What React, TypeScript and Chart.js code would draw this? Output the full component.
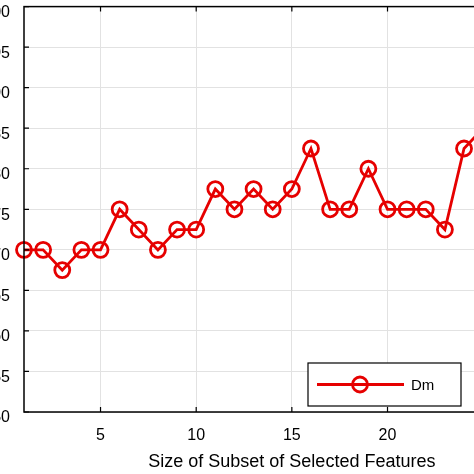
import { useEffect, useRef } from 'react';
import { Chart, registerables } from 'chart.js';

Chart.register(...registerables);

// values
const subsetSizes = [1, 2, 3, 4, 5, 6, 7, 8, 9, 10, 11, 12, 13, 14, 15, 16, 17, 18, 19, 20, 21, 22, 23, 24, 25];
const dmValues = [70, 70, 67.5, 70, 70, 75, 72.5, 70, 72.5, 72.5, 77.5, 75, 77.5, 75, 77.5, 82.5, 75, 75, 80, 75, 75, 75, 72.5, 82.5, 85];
const seriesName = 'Dm';
const xTitle = 'Size of Subset of Selected Features';
const xRange = [1, 29];
const yRange = [50, 100];

const RED = '#e60000';
const FONT = "'Liberation Sans', Arial, sans-serif";

// frame, inward ticks and the legend box inside the plot
const framePlugin = {
  id: 'frame',
  afterDraw(chart: any) {
    const { ctx, chartArea: a, scales } = chart;
    ctx.save();
    ctx.strokeStyle = '#000';
    ctx.lineWidth = 1.5;
    ctx.strokeRect(a.left, a.top, a.right - a.left, a.bottom - a.top);

    ctx.lineWidth = 1.2;
    ctx.beginPath();
    scales.x.ticks.forEach((t: any) => {
      const px = scales.x.getPixelForValue(t.value);
      ctx.moveTo(px, a.bottom);
      ctx.lineTo(px, a.bottom - 5);
      ctx.moveTo(px, a.top);
      ctx.lineTo(px, a.top + 5);
    });
    scales.y.ticks.forEach((t: any) => {
      const py = scales.y.getPixelForValue(t.value);
      ctx.moveTo(a.left, py);
      ctx.lineTo(a.left + 5, py);
    });
    ctx.stroke();

    // legend
    const lx = a.left + 284;
    const lw = 153;
    const lh = 43;
    const ly = a.bottom - 6 - lh;
    ctx.fillStyle = '#fff';
    ctx.fillRect(lx, ly, lw, lh);
    ctx.strokeStyle = '#000';
    ctx.lineWidth = 1.2;
    ctx.strokeRect(lx, ly, lw, lh);
    const cy = ly + lh / 2;
    ctx.strokeStyle = RED;
    ctx.lineWidth = 2.8;
    ctx.beginPath();
    ctx.moveTo(lx + 9, cy);
    ctx.lineTo(lx + 96, cy);
    ctx.stroke();
    ctx.beginPath();
    ctx.arc(lx + 52, cy, 7.5, 0, Math.PI * 2);
    ctx.stroke();
    ctx.fillStyle = '#000';
    ctx.font = `15px ${FONT}`;
    ctx.textBaseline = 'middle';
    ctx.textAlign = 'left';
    ctx.fillText(seriesName, lx + 103, cy + 1);
    ctx.restore();
  },
};

const App = () => {
  const canvasRef = useRef<HTMLCanvasElement>(null);
  const chartRef = useRef<Chart | null>(null);

  useEffect(() => {
    if (!canvasRef.current) return;
    if (chartRef.current) chartRef.current.destroy();

    chartRef.current = new Chart(canvasRef.current, {
      type: 'line',
      data: {
        datasets: [
          {
            label: seriesName,
            data: subsetSizes.map((s, i) => ({ x: s, y: dmValues[i] })),
            borderColor: RED,
            borderWidth: 2.8,
            pointStyle: 'circle',
            pointRadius: 7.5,
            pointBorderWidth: 2.8,
            pointBorderColor: RED,
            pointBackgroundColor: 'rgba(0,0,0,0)',
            tension: 0,
            clip: false as any,
          },
        ],
      },
      options: {
        responsive: false,
        animation: false,
        layout: { padding: { top: 5, right: 5, left: 0, bottom: 0 } },
        plugins: {
          legend: { display: false },
          tooltip: { enabled: false },
        },
        scales: {
          x: {
            type: 'linear',
            min: xRange[0],
            max: xRange[1],
            afterFit: (scale: any) => {
              scale.height = 62;
            },
            ticks: {
              stepSize: 5,
              includeBounds: false,
              padding: 14,
              color: '#000',
              font: { size: 16, family: FONT },
            },
            grid: { color: '#e2e2e2', lineWidth: 1, drawTicks: false },
            border: { display: false },
            title: {
              display: true,
              text: xTitle,
              color: '#000',
              font: { size: 18, family: FONT },
              padding: { top: 0, bottom: 1 },
            },
          },
          y: {
            min: yRange[0],
            max: yRange[1],
            afterFit: (scale: any) => {
              scale.width = 64;
            },
            ticks: {
              stepSize: 5,
              padding: 14,
              labelOffset: 6,
              color: '#000',
              font: { size: 16, family: FONT },
            },
            grid: { color: '#e2e2e2', lineWidth: 1, drawTicks: false },
            border: { display: false },
          },
        },
      },
      plugins: [framePlugin],
    });

    return () => {
      if (chartRef.current) {
        chartRef.current.destroy();
        chartRef.current = null;
      }
    };
  }, []);

  return (
    <div
      style={{
        position: 'fixed',
        left: 0,
        top: 0,
        width: 474,
        height: 474,
        overflow: 'hidden',
        background: '#fff',
      }}
    >
      <canvas
        ref={canvasRef}
        width={610}
        height={491}
        style={{ position: 'absolute', left: -40, top: -17, width: 610, height: 491 }}
      />
    </div>
  );
};

export default App;
